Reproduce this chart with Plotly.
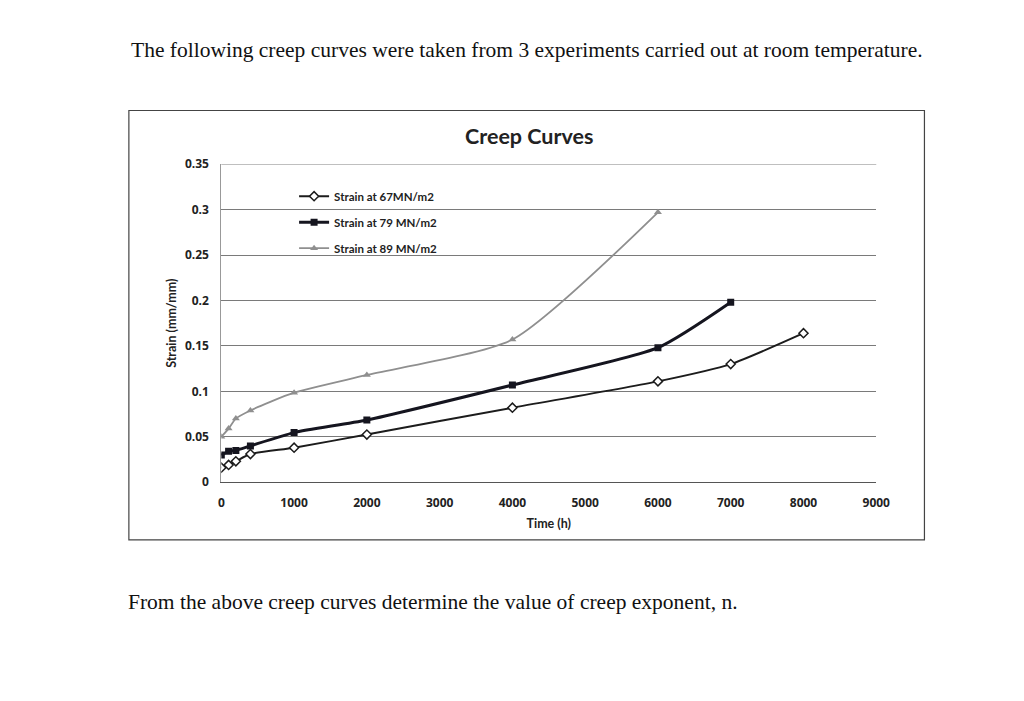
import plotly.graph_objects as go

time_67 = [0, 100, 200, 400, 1000, 2000, 4000, 6000, 7000, 8000]
strain_67 = [0.016, 0.019, 0.023, 0.031, 0.038, 0.0525, 0.082, 0.111, 0.130, 0.164]
time_79 = [0, 100, 200, 400, 1000, 2000, 4000, 6000, 7000]
strain_79 = [0.030, 0.034, 0.035, 0.040, 0.0546, 0.0685, 0.107, 0.148, 0.198]
time_89 = [0, 100, 200, 400, 1000, 2000, 4000, 6000]
strain_89 = [0.050, 0.059, 0.070, 0.079, 0.0985, 0.118, 0.157, 0.297]

x_ticks = [0, 1000, 2000, 3000, 4000, 5000, 6000, 7000, 8000, 9000]
y_ticks = [0, 0.05, 0.1, 0.15, 0.2, 0.25, 0.3, 0.35]
y_tick_labels = ["0", "0.05", "0.1", "0.15", "0.2", "0.25", "0.3", "0.35"]

W, H = 1024, 701
def px(x): return x / W
def py(y): return 1 - y / H

fig = go.Figure()
fig.add_trace(go.Scatter(
    x=time_67, y=strain_67, name="Strain at 67MN/m2", mode="lines+markers",
    line=dict(color="#1c1c1c", width=2, shape="spline", smoothing=0.6),
    marker=dict(symbol="diamond", size=7, color="white", line=dict(color="#1c1c1c", width=1.5)),
    legendgroup="a"))
fig.add_trace(go.Scatter(
    x=time_79, y=strain_79, name="Strain at 79 MN/m2", mode="lines+markers",
    line=dict(color="#15151f", width=3, shape="spline", smoothing=0.6),
    marker=dict(symbol="square", size=7, color="#15151f"),
    legendgroup="b"))
fig.add_trace(go.Scatter(
    x=time_89, y=strain_89, name="Strain at 89 MN/m2", mode="lines+markers",
    line=dict(color="#8f8f8f", width=1.8, shape="spline", smoothing=0.6),
    marker=dict(symbol="triangle-up", size=7, color="#8f8f8f"),
    legendgroup="c"))

chart_font = "Lato, 'Open Sans', sans-serif"
tick_font = dict(family="'Open Sans', Lato, sans-serif", size=12, color="#222", weight="bold")
title_font = dict(family=chart_font, size=12.5, color="#222", weight="bold")

fig.update_layout(
    width=W, height=H,
    margin=dict(l=0, r=0, t=0, b=0),
    paper_bgcolor="white", plot_bgcolor="white",
    showlegend=True,
    legend=dict(x=px(296), y=py(177), xanchor="left", yanchor="top",
                bgcolor="rgba(0,0,0,0)", font=dict(family=chart_font, size=11.5, color="#222", weight="bold"),
                traceorder="grouped", tracegroupgap=7, itemwidth=30),
    xaxis=dict(domain=[px(222), px(888)], range=[0, 9000], tickvals=x_ticks,
               ticktext=[str(v) for v in x_ticks], showgrid=False, zeroline=False,
               showline=True, linecolor="#555", linewidth=1, ticks="",
               tickfont=tick_font, ticklabelstandoff=9,
               title=dict(text="Time (h)", font=title_font, standoff=9)),
    yaxis=dict(domain=[py(485), py(159)], range=[0, 0.35], tickvals=y_ticks,
               ticktext=y_tick_labels, showgrid=True, gridcolor="#7a7a7a", gridwidth=1,
               zeroline=False, showline=True, linecolor="#999", linewidth=1, ticks="",
               tickfont=tick_font, ticklabelstandoff=9,
               title=dict(text="Strain (mm/mm)", font=title_font, standoff=5)),
)

# top border of plot area (gridline at 0.35)
fig.add_shape(type="line", xref="x domain", yref="y", x0=0, x1=1, y0=0.35, y1=0.35,
              line=dict(color="#7a7a7a", width=1))

# chart box
fig.add_shape(type="rect", xref="paper", yref="paper",
              x0=px(128), x1=px(937), y0=py(544), y1=py(104),
              line=dict(color="#444", width=1.2), fillcolor="rgba(0,0,0,0)", layer="below")

fig.add_annotation(text="Creep Curves", xref="paper", yref="paper",
                   x=px(535), y=py(130), xanchor="center", yanchor="middle", showarrow=False,
                   font=dict(family=chart_font, size=21.5, color="#222", weight="bold"))

serif = "'Liberation Serif', 'Times New Roman', serif"
fig.add_annotation(text="The following creep curves were taken from 3 experiments carried out at room temperature.",
                   xref="paper", yref="paper", x=px(128), y=py(42), xanchor="left", yanchor="middle",
                   showarrow=False, font=dict(family=serif, size=21.5, color="#111"))
fig.add_annotation(text="From the above creep curves determine the value of creep exponent, n.",
                   xref="paper", yref="paper", x=px(125), y=py(608), xanchor="left", yanchor="middle",
                   showarrow=False, font=dict(family=serif, size=21.5, color="#111"))

fig.write_html("out.html")
